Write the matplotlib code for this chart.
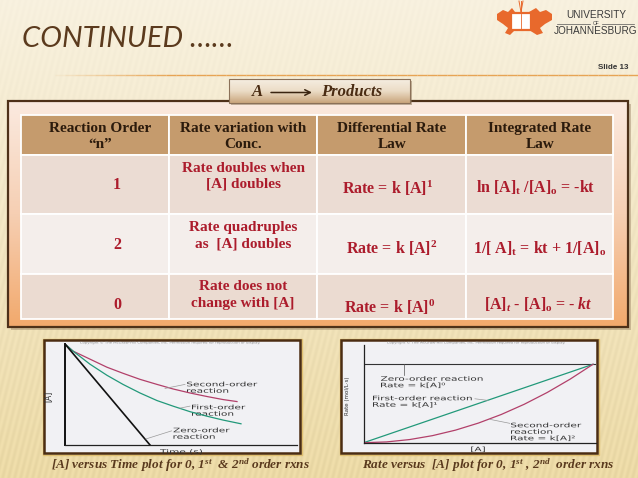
import numpy as np
import matplotlib
matplotlib.use("Agg")
import matplotlib.pyplot as plt
from matplotlib.patches import Rectangle, Polygon, PathPatch
from matplotlib.textpath import TextPath
from matplotlib.font_manager import FontProperties
from matplotlib.transforms import Affine2D
from matplotlib.colors import LinearSegmentedColormap

plt.rcParams['mathtext.fontset'] = 'custom'
plt.rcParams['mathtext.rm'] = 'Liberation Serif:bold'
plt.rcParams['mathtext.it'] = 'Liberation Serif:bold:italic'
plt.rcParams['mathtext.bf'] = 'Liberation Serif:bold'

# ---- table content ----
headers = [["Reaction Order", "\u201cn\u201d"], ["Rate variation with", "Conc."],
           ["Differential Rate", "Law"], ["Integrated Rate", "Law"]]
orders = ["1", "2", "0"]
variation = [["Rate doubles when", "[A] doubles"],
             ["Rate quadruples", "as  [A] doubles"],
             ["Rate does not", "change with [A]"]]
diff_law = [r"Rate = k [A]$^{1}$", r"Rate = k [A]$^{2}$", r"Rate = k [A]$^{0}$"]
int_law = [r"ln [A]$_\mathrm{t}$ /[A]$_\mathrm{o}$ = -kt",
           r"1/[ A]$_\mathrm{t}$ = kt + 1/[A]$_\mathrm{o}$",
           r"[A]$_t$ - [A]$_\mathrm{o}$ = - $kt$"]

# ---- left plot: [A] versus time ----
time_zero = [0, 4.25]
conc_zero = [1.0, 0.0]
time_first = [0, 0.4, 1.25, 2.1, 2.9, 3.75, 4.6, 5.4, 6.25, 7.1, 7.9, 8.8]
conc_first = [1.0, 0.93, 0.80, 0.69, 0.60, 0.515, 0.44, 0.385, 0.33, 0.285, 0.247, 0.21]
time_second = [0, 0.4, 1.25, 2.1, 2.9, 3.75, 4.6, 5.4, 6.25, 7.1, 7.9, 8.6]
conc_second = [1.0, 0.93, 0.85, 0.77, 0.71, 0.65, 0.60, 0.555, 0.515, 0.48, 0.45, 0.43]

# ---- right plot: rate versus [A] ----
conc_axis = [0, 0.1, 0.2, 0.3, 0.4, 0.5, 0.6, 0.7, 0.8, 0.9, 1.0]
rate_first = [0, 0.1, 0.2, 0.3, 0.4, 0.5, 0.6, 0.7, 0.8, 0.9, 1.0]
rate_second = [0, 0.01, 0.04, 0.09, 0.16, 0.25, 0.36, 0.49, 0.64, 0.81, 1.0]
conc_zero_line = [0, 1.013]
rate_zero = [1.0, 1.0]

W, H = 638, 478
fig = plt.figure(figsize=(W / 100, H / 100), dpi=100)
bg = fig.add_axes([0, 0, 1, 1])
bg.axis('off')


def gradient(x0, x1, y0, y1, colors, z, clip=None):
    cm = LinearSegmentedColormap.from_list('g', colors)
    g = np.linspace(0, 1, 256).reshape(-1, 1)
    im = bg.imshow(g, cmap=cm, extent=(x0, x1, y1, y0), aspect='auto',
                   origin='upper', zorder=z, interpolation='bilinear')
    return im


# slide background with faint stripes
yy, xx = np.mgrid[0:H, 0:W]
base = np.linspace(0, 1, H).reshape(-1, 1) * np.ones((1, W))
stripes = 0.5 + 0.5 * np.sin(2 * np.pi * (xx + 0.25 * yy) / 6.0)
top = np.array([249, 242, 224]) / 255
bot = np.array([240, 222, 170]) / 255
img = top[None, None, :] * (1 - base[..., None]) + bot[None, None, :] * base[..., None]
img = img - 0.025 * stripes[..., None] * (0.4 + base[..., None])
bg.imshow(np.clip(img, 0, 1), extent=(0, W, H, 0), aspect='auto', zorder=0)

# title
bg.text(22, 39, "CONTINUED \u2026\u2026", fontsize=21, style='italic',
        family=['Liberation Sans Narrow', 'Lato', 'DejaVu Sans'],
        color='#5b3a1d', va='center', ha='left', zorder=5)

# logo
orange = '#e8692c'
bg.add_patch(Polygon([(497, 14), (503, 10), (508, 12), (512, 8), (515, 12), (515, 30),
                      (510, 35), (505, 33), (508, 28), (503, 24), (497, 20)],
                     closed=True, facecolor=orange, edgecolor='none', zorder=5))
bg.add_patch(Polygon([(529, 12), (536, 8), (540, 12), (546, 10), (552, 14), (552, 20),
                      (545, 24), (540, 28), (543, 33), (537, 35), (529, 30)],
                     closed=True, facecolor=orange, edgecolor='none', zorder=5))
bg.add_patch(Rectangle((511, 13), 20, 17, facecolor='white', edgecolor=orange, lw=1.6, zorder=6))
bg.plot([521, 521], [14, 29], color=orange, lw=0.6, zorder=7)
for dx in (-2, 0, 2):
    bg.plot([521, 521 + dx], [12, 1], color=orange, lw=0.7, zorder=6)
bg.text(596, 15, "UNIVERSITY", fontsize=7.2, family='Liberation Sans', color='#3a3a3a',
        ha='center', va='center', zorder=5)
bg.text(596, 23.5, "OF", fontsize=3.5, family='Liberation Sans', color='#3a3a3a',
        ha='center', va='center', zorder=5)
bg.plot([557, 590], [23.5, 23.5], color='#555555', lw=0.5, zorder=5)
bg.plot([602, 634], [23.5, 23.5], color='#555555', lw=0.5, zorder=5)
bg.text(596, 31, "JOHANNESBURG", fontsize=7.2, family='Liberation Sans', color='#3a3a3a',
        ha='center', va='center', zorder=5)
bg.text(628, 67, "Slide 13", fontsize=5.8, family='Liberation Sans', weight='bold',
        color='#333333', ha='right', va='center', zorder=5)

# separator line
sep = np.linspace(45, W, 60)
for i in range(len(sep) - 1):
    a = min(1.0, i / 12)
    bg.plot(sep[i:i + 2], [75, 75], color='#e7a454', lw=1.0, alpha=a, zorder=4,
            solid_capstyle='butt')

# main panel
bg.add_patch(Rectangle((11, 104), 620, 226, facecolor='#9a8264', alpha=0.45,
                       edgecolor='none', zorder=2))
im = gradient(8, 628, 101, 327, ['#fbeae0', '#f6cfb3', '#f2a96c'], 3)
clip = Rectangle((8, 101), 620, 226, transform=bg.transData)
im.set_clip_path(clip)
bg.add_patch(Rectangle((8, 101), 620, 226, facecolor='none', edgecolor='#4e3119',
                       lw=1.6, zorder=4))

# A -> Products box
bg.add_patch(Rectangle((231, 81), 181, 24, facecolor='#8c7458', alpha=0.5,
                       edgecolor='none', zorder=5))
im2 = gradient(229, 410, 79, 103, ['#f6eee2', '#ebdcc6', '#c9a57c'], 6)
im2.set_clip_path(Rectangle((229, 79), 181, 24, transform=bg.transData))
bg.add_patch(Rectangle((229, 79), 181, 24, facecolor='none', edgecolor='#8b7158',
                       lw=0.8, zorder=7))
bg.text(257, 92, "A", fontsize=12, family='Liberation Serif', weight='bold',
        style='italic', color='#4a2c13', ha='center', va='center', zorder=8)
bg.annotate('', xy=(312, 92.5), xytext=(271, 92.5),
            arrowprops=dict(arrowstyle='->', lw=1.1, color='#3a2410',
                            shrinkA=0, shrinkB=0), zorder=8)
bg.text(321, 92, "Products", fontsize=12, family='Liberation Serif', weight='bold',
        style='italic', color='#4a2c13', ha='left', va='center', zorder=8)

# table
col_edges = [21, 169, 317, 466, 613]
row_edges = [115, 155, 214, 274, 319]
fills = ['#c59b6d', '#ebdcd3', '#f4eeeb', '#ebdbd1']
for r in range(4):
    for c in range(4):
        bg.add_patch(Rectangle((col_edges[c], row_edges[r]),
                               col_edges[c + 1] - col_edges[c],
                               row_edges[r + 1] - row_edges[r],
                               facecolor=fills[r], edgecolor='white', lw=1.3, zorder=5))

serif = 'Liberation Serif'
hdr_color = '#2b1a0c'
red = '#ac1c2c'
hdr_x = [100, 243, 392, 540]
for c in range(4):
    for k, yv in enumerate((128, 145)):
        bg.text(hdr_x[c], yv, headers[c][k], fontsize=11, family=serif, weight='bold',
                color=hdr_color, ha='center', va='center', zorder=6)

num_y = [185, 245, 305]
var_y = [(168, 184), (227, 244), (287, 303)]
diff_y = [188, 248, 307]
int_y = [188, 249, 305]
diff_x = [388, 392, 390]
int_x = [536, 540, 538]
for r in range(3):
    bg.text(117, num_y[r], orders[r], fontsize=11.5, family=serif, weight='bold',
            color=red, ha='center', va='center', zorder=6)
    for k in range(2):
        bg.text(243, var_y[r][k], variation[r][k], fontsize=11, family=serif,
                weight='bold', color=red, ha='center', va='center', zorder=6)
    bg.text(diff_x[r], diff_y[r], diff_law[r], fontsize=11.5, family=serif,
            weight='bold', color=red, ha='center', va='center', zorder=6)
    bg.text(int_x[r], int_y[r], int_law[r], fontsize=11.5, family=serif,
            weight='bold', color=red, ha='center', va='center', zorder=6)


# stretched sans text for the small plots (the images are widened)
def stext(x, y, s, h=6.2, sx=1.7, ha='left', color='#333333', width=None, z=9):
    tp = TextPath((0, 0), s, size=h, prop=FontProperties(family='DejaVu Sans'))
    ext = tp.get_extents()
    if width is not None:
        sx = width / ext.width
    if ha == 'left':
        ox = x - ext.x0 * sx
    else:
        ox = x - (ext.x0 + ext.width / 2) * sx
    tr = Affine2D().scale(sx, -1).translate(ox, y + 0.365 * h) + bg.transData
    bg.add_patch(PathPatch(tp, transform=tr, facecolor=color, edgecolor='none', zorder=z))


# plot frames
for fx in (44, 341):
    bg.add_patch(Rectangle((fx - 1.5, 338.5), 259, 116, facecolor='none',
                           edgecolor='#e0c070', lw=1.0, zorder=4))
    bg.add_patch(Rectangle((fx, 340), 256, 113, facecolor='#f1f1f4',
                           edgecolor='#4b2d12', lw=1.8, zorder=5))

copyright_txt = "Copyright \u00a9 The McGraw-Hill Companies, Inc. Permission required for reproduction or display."
stext(170, 342.5, copyright_txt, h=3, ha='center', color='#8a8a8a', width=180)
stext(476, 342.5, copyright_txt, h=3, ha='center', color='#8a8a8a', width=178)

# left plot
axl = fig.add_axes([65 / W, 1 - 445 / H, (297 - 65) / W, (445 - 344) / H])
axl.patch.set_alpha(0)
axl.plot(time_second, conc_second, color='#b2406a', lw=0.9)
axl.plot(time_first, conc_first, color='#22997a', lw=0.9)
axl.plot(time_zero, conc_zero, color='#111111', lw=1.2)
axl.set_xlim(0, 11.6)
axl.set_ylim(0, 1.0)
axl.set_xticks([])
axl.set_yticks([])
for sp in ('top', 'right'):
    axl.spines[sp].set_visible(False)
axl.spines['left'].set_linewidth(1.4)
axl.spines['left'].set_color('#111111')
axl.spines['bottom'].set_linewidth(0.9)
axl.spines['bottom'].set_color('#222222')
# leaders
axl.plot([5.0, 6.0], [0.56, 0.60], color='#999999', lw=0.5)
axl.plot([5.75, 6.25], [0.365, 0.385], color='#999999', lw=0.5)
axl.plot([4.05, 5.33], [0.06, 0.14], color='#999999', lw=0.5)

stext(187, 384, "Second-order")
stext(187, 390.5, "reaction")
stext(192, 407, "First-order")
stext(192, 413.5, "reaction")
stext(173.5, 430, "Zero-order")
stext(173.5, 436.5, "reaction")
stext(181, 451.5, "Time (s)", ha='center')
bg.text(48, 396, "[A]", fontsize=5.5, rotation=90, family='DejaVu Sans',
        color='#333333', ha='center', va='center', zorder=9)

# right plot
axr = fig.add_axes([363.7 / W, 1 - 442.7 / H, (596 - 363.7) / W, (442.7 - 345.3) / H])
axr.patch.set_alpha(0)
axr.plot(conc_zero_line, rate_zero, color='#333333', lw=0.8)
axr.plot(conc_axis, rate_first, color='#22997a', lw=0.9)
axr.plot(conc_axis, rate_second, color='#b2406a', lw=0.9)
axr.set_xlim(0, 1.013)
axr.set_ylim(0, 1.242)
axr.set_xticks([])
axr.set_yticks([])
for sp in ('top', 'right'):
    axr.spines[sp].set_visible(False)
for sp in ('left', 'bottom'):
    axr.spines[sp].set_linewidth(0.9)
    axr.spines[sp].set_color('#222222')
axr.plot([0.174, 0.174], [1.0, 0.86], color='#555555', lw=0.5)
axr.plot([0.485, 0.54], [0.56, 0.54], color='#999999', lw=0.5)
axr.plot([0.55, 0.637], [0.298, 0.247], color='#999999', lw=0.5)

stext(381, 378.5, "Zero-order reaction")
stext(381, 385, "Rate = k[A]\u2070")
stext(373, 398, "First-order reaction")
stext(373, 404.5, "Rate = k[A]\u00b9")
stext(511, 425, "Second-order")
stext(511, 431.5, "reaction")
stext(511, 438, "Rate = k[A]\u00b2")
stext(478, 449, "[A]", ha='center')
bg.text(348, 396, "Rate (mol/L\u00b7s)", fontsize=4, rotation=90, family='DejaVu Sans',
        color='#333333', ha='center', va='center', zorder=9)

# captions
bg.text(181, 465, r"[A] versus Time plot for 0, 1$^{st}$  & 2$^{nd}$ order rxns",
        fontsize=9.5, family=serif, weight='bold', style='italic', color='#5a3a1e',
        ha='center', va='center', zorder=6)
bg.text(488, 465, r"Rate versus  [A] plot for 0, 1$^{st}$ , 2$^{nd}$  order rxns",
        fontsize=9.5, family=serif, weight='bold', style='italic', color='#5a3a1e',
        ha='center', va='center', zorder=6)

bg.set_xlim(0, W)
bg.set_ylim(H, 0)
fig.savefig('out.png', dpi=100)
